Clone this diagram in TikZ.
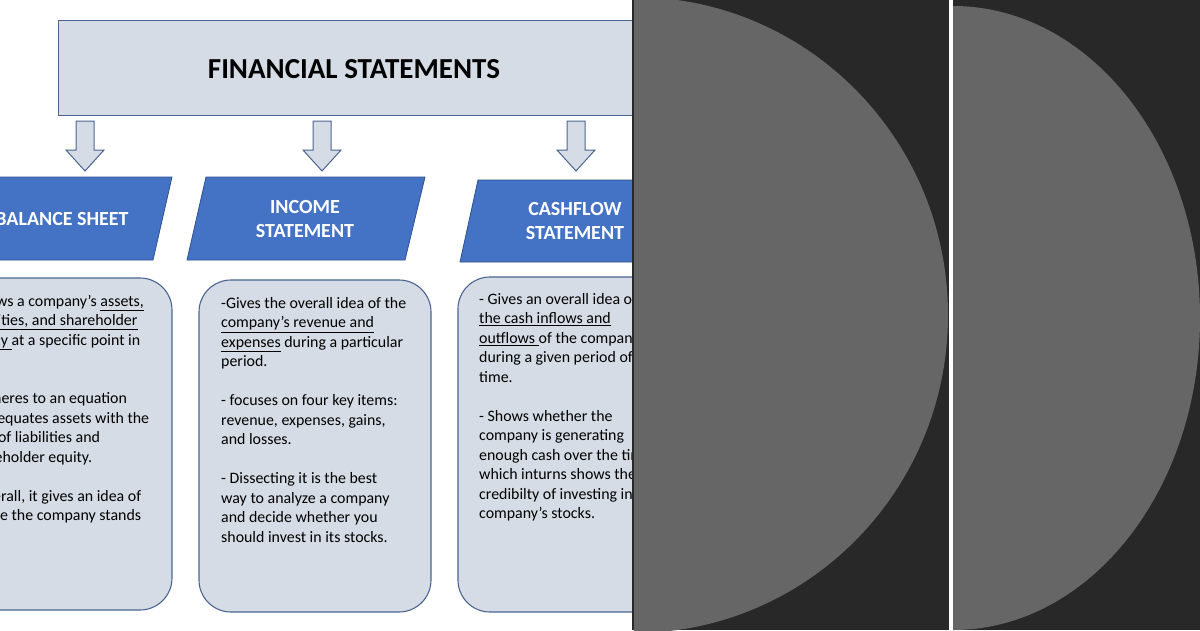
\documentclass[tikz,border=0pt]{standalone}
\usepackage{fontspec}
\setmainfont{Carlito}
\begin{document}
\begin{tikzpicture}[x=1pt,y=-1pt,
  lite/.style={fill=boxfill,draw=edge,line width=1.1pt},
  head/.style={fill=hblue,draw=hedge,line width=0.8pt},
  body/.style={font=\fontsize{15.9}{19.5}\selectfont,align=left,anchor=north west,inner sep=0pt,text=black},
  htext/.style={font=\fontsize{20}{24.5}\selectfont\bfseries,text=white,align=center},
  barrow/.style={fill=boxfill,draw=edge,line width=1pt}]
\definecolor{boxfill}{HTML}{D6DCE5}
\definecolor{edge}{HTML}{4A6590}
\definecolor{hblue}{HTML}{4472C4}
\definecolor{hedge}{HTML}{2F528F}
\definecolor{dark}{HTML}{282828}
\definecolor{disc}{HTML}{666666}
\useasboundingbox (0,0) rectangle (1200,630);
\fill[white] (0,0) rectangle (1200,630);
\begin{scope}
\clip (0,0) rectangle (632,630);
\draw[lite,line width=1pt] (58,20) rectangle (660,115);
\node[font=\fontsize{29}{34}\selectfont\bfseries] (title) at (354,69) {FINANCIAL STATEMENTS};
\foreach \cx in {85,322,576}{
  \draw[barrow] (\cx-9,121) -- (\cx+9,121) -- (\cx+9,150) -- (\cx+19,150) -- (\cx,171) -- (\cx-19,150) -- (\cx-9,150) -- cycle;}
\draw[head] (-47,177) -- (172,177) -- (153,260) -- (-66,260) -- cycle;
\draw[head] (206,177) -- (425,177) -- (405,260) -- (187,260) -- cycle;
\draw[head] (478,180) -- (697,180) -- (678,262) -- (460,262) -- cycle;
\node[htext] (bs) at (62,219) {BALANCE SHEET};
\node[htext] (is) at (305,219) {INCOME\\STATEMENT};
\node[htext] (cs) at (575,221) {CASHFLOW\\STATEMENT};
\draw[lite,rounded corners=32pt] (-70,278) rectangle (172,610);
\draw[lite,rounded corners=32pt] (199,280) rectangle (431,612);
\draw[lite,rounded corners=32pt] (458,277) rectangle (700,612);
\node[body] (t1) at (-33,295) {-Shows a company's \underline{assets,}\\\underline{liabilities, and shareholder}\\\underline{equity }at a specific point in\\time.\\[19.5pt]- Adheres to an equation\\that equates assets with the\\sum of liabilities and\\shareholder equity.\\[19.5pt]- Overall, it gives an idea of\\where the company stands};
\node[body] (t2) at (221,297) {-Gives the overall idea of the\\\underline{company's revenue and}\\\underline{expenses} during a particular\\period.\\[19.5pt]- focuses on four key items:\\revenue, expenses, gains,\\and losses.\\[19.5pt]- Dissecting it is the best\\way to analyze a company\\and decide whether you\\should invest in its stocks.};
\node[body] (t3) at (479,293) {- Gives an overall idea of\\\underline{the cash inflows and}\\\underline{outflows }of the company\\during a given period of\\time.\\[19.5pt]- Shows whether the\\company is generating\\enough cash over the time\\which inturns shows the\\credibilty of investing in\\company's stocks.};
\end{scope}
\fill[dark] (632,0) rectangle (1200,630);
\fill[white] (949,0) rectangle (953,630);
\begin{scope}
\clip (634,0) rectangle (949,630);
\fill[disc] (634,315) ellipse [x radius=314, y radius=318];
\end{scope}
\begin{scope}
\clip (953,0) rectangle (1200,630);
\fill[disc] (953,318) ellipse [x radius=247, y radius=312];
\end{scope}
\end{tikzpicture}
\end{document}
